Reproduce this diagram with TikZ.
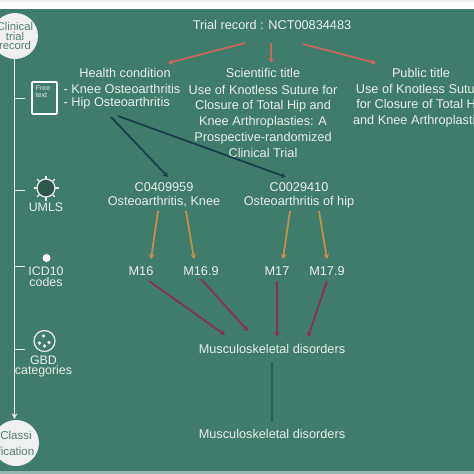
\documentclass[tikz,border=0pt]{standalone}
\usepackage{fontspec}
\setmainfont{Liberation Sans}
\usetikzlibrary{arrows.meta}
\definecolor{panel}{HTML}{3F7C6B}
\definecolor{pale}{HTML}{E6F0EA}
\definecolor{disc}{HTML}{EEF1EF}
\definecolor{redarrow}{HTML}{C9655C}
\definecolor{darkarrow}{HTML}{17404A}
\definecolor{orangearrow}{HTML}{C98F4E}
\definecolor{purplearrow}{HTML}{8A2F52}
\definecolor{greenarrow}{HTML}{1E6B3C}
\tikzset{
  label/.style={text=pale, font=\fontsize{9.05}{11.2}\selectfont, align=center, inner sep=0pt},
  sidelabel/.style={text=pale, font=\fontsize{8.8}{8}\selectfont, align=center, inner sep=0pt},
  round/.style={circle, fill=disc, minimum size=46*0.025cm, inner sep=0pt, align=center, text=panel!60!gray},
  link/.style={-{Stealth[length=3.6pt,width=4pt]}, line width=1.25pt},
}
\begin{document}
\begin{tikzpicture}[x=0.025cm, y=-0.025cm]

    % Frame
    \path[use as bounding box, clip] (0,0) rectangle (474,474);
    \fill[white] (0,0) rectangle (474,474);
    \fill[black!6] (0,0) rectangle (474,2);
    \fill[panel] (0,9) rectangle (474,471);
    \fill[panel!55!white] (0,471) rectangle (474,474);

    % Timeline
    \node (record) at (15,36) [round, font=\fontsize{8}{6.8}\selectfont] {Clinical\\trial\\record};
    \node (classif) at (16,443) [round, font=\fontsize{8.2}{11.5}\selectfont] {Classi\\fication};
    \draw[-{Stealth[length=4pt,width=4pt]}, pale, line width=0.9pt] (14.5,59) -- (14.5,419);
    \foreach \tick/\ty in {a/98.5, b/190, c/266, d/349}
        \draw[pale, line width=0.6pt] (14.5,\ty) -- (25,\ty);

    % Icons
    \draw[white, line width=1.2pt, rounded corners=0.5pt] (32,82) rectangle (57,114);
    \node (free) at (43,91.5) [text=pale, font=\fontsize{5}{4.6}\selectfont, align=left, inner sep=0pt] {Free\\text};
    \foreach \ang in {0,45,...,315}
        \draw[pale, line width=1pt] (46,188) ++(\ang:8) -- ++(\ang:4.5);
    \draw[pale, fill=panel!70!black, line width=0.9pt] (46,188) circle (9);
    \fill[white] (46.5,258) circle (4);
    \draw[pale, line width=0.9pt] (44.5,341) circle (10.5);
    \foreach \dx/\dy in {-1/-5, 4.5/1.5, -5/2, 0/5}
        \fill[pale] (44.5+\dx,341+\dy) circle (1.8);

    % Side labels
    \node (umls) at (46,207) [sidelabel] {UMLS};
    \node (icd) at (46,276.5) [sidelabel, font=\fontsize{8.8}{7.6}\selectfont] {ICD10\\codes};
    \node (gbd) at (43.5,366.5) [sidelabel, font=\fontsize{8.8}{7.6}\selectfont] {GBD\\categories};

    % Node definitions
    \node (trial) at (272,25) [label] {Trial record : NCT00834483};
    \node (health) at (125,73) [label] {Health condition};
    \node (list) at (122,96.5) [label, align=left, font=\fontsize{9.05}{9.4}\selectfont] {- Knee Osteoarthritis\\- Hip Osteoarthritis};
    \node (sci) at (263,73) [label] {Scientific title};
    \node (scibody) at (263,121) [label] {Use of Knotless Suture for\\Closure of Total Hip and\\Knee Arthroplasties: A\\Prospective-randomized\\Clinical Trial};
    \node (pub) at (421,73) [label] {Public title};
    \node (pubbody) at (421,105.5) [label] {Use of Knotless Suture\\for Closure of Total Hip\\and Knee Arthroplasties};
    \node (knee) at (164,195) [label, font=\fontsize{9.05}{10}\selectfont] {C0409959\\Osteoarthritis, Knee};
    \node (hip) at (299,195.5) [label, font=\fontsize{9.05}{10}\selectfont] {C0029410\\Osteoarthritis of hip};
    \node (ma) at (141,271) [label] {M16};
    \node (mb) at (201,271) [label] {M16.9};
    \node (mc) at (277,271) [label] {M17};
    \node (md) at (327,271) [label] {M17.9};
    \node (msd) at (272,349) [label] {Musculoskeletal disorders};
    \node (gbdout) at (272,434) [label] {Musculoskeletal disorders};

    % Edge definitions
    \draw[link, redarrow] ([shift={(-27,18)}]trial.center) -- ([shift={(43,-10)}]health.center);
    \draw[link, redarrow] ([shift={(-1,18)}]trial.center) -- ([shift={(8,-10)}]sci.center);
    \draw[link, redarrow] ([shift={(31,19)}]trial.center) -- ([shift={(-45,-10)}]pub.center);
    \draw[link, darkarrow] ([shift={(-11,20.5)}]list.center) -- ([shift={(4,-18)}]knee.center);
    \draw[link, darkarrow] ([shift={(-4,19.5)}]list.center) -- ([shift={(-13,-18.5)}]hip.center);
    \draw[link, orangearrow] ([shift={(-6,16)}]knee.center) -- ([shift={(10,-12)}]ma.center);
    \draw[link, orangearrow] ([shift={(22,16)}]knee.center) -- ([shift={(-7,-12)}]mb.center);
    \draw[link, orangearrow] ([shift={(-9,15.5)}]hip.center) -- ([shift={(6,-12)}]mc.center);
    \draw[link, orangearrow] ([shift={(20,15.5)}]hip.center) -- ([shift={(0,-12)}]md.center);
    \draw[link, purplearrow] ([shift={(8,10)}]ma.center) -- ([shift={(-47,-14)}]msd.center);
    \draw[link, purplearrow] ([shift={(0,8)}]mb.center) -- ([shift={(-24,-18)}]msd.center);
    \draw[link, purplearrow] ([shift={(0,10)}]mc.center) -- ([shift={(5,-12)}]msd.center);
    \draw[link, purplearrow] ([shift={(0,10)}]md.center) -- ([shift={(36,-12)}]msd.center);
    \draw[greenarrow, line width=1pt] ([shift={(0,13)}]msd.center) -- ([shift={(0,-12)}]gbdout.center);
\end{tikzpicture}
\end{document}
